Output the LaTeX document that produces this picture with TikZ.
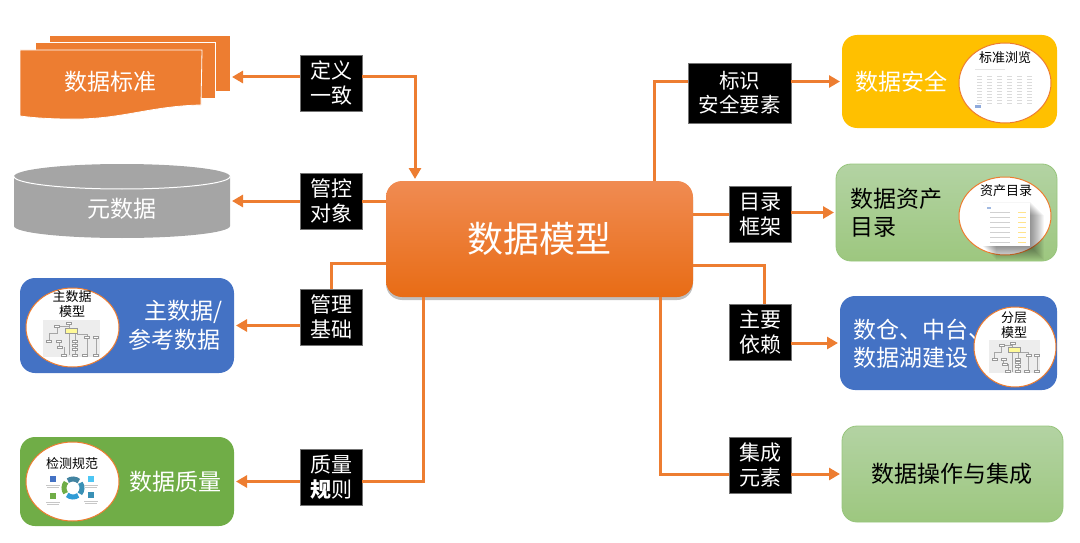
\documentclass[tikz,border=0pt]{standalone}
\usepackage{fontspec}
\setmainfont{Noto Sans CJK SC}
\usetikzlibrary{positioning, arrows.meta, shapes.geometric, shadows}
\definecolor{lineorange}{HTML}{ED7D31}
\definecolor{sheetorange}{HTML}{ED7D31}
\definecolor{boxblue}{HTML}{4472C4}
\definecolor{boxgreen}{HTML}{70AD47}
\definecolor{boxyellow}{HTML}{FFC000}
\definecolor{metagray}{HTML}{A5A5A5}
\definecolor{softtop}{HTML}{B3D3A3}
\definecolor{softbottom}{HTML}{9DC77F}
\definecolor{softedge}{HTML}{97C57C}
\definecolor{modeltop}{HTML}{F08B52}
\definecolor{modelmid}{HTML}{F47A26}
\definecolor{modelbottom}{HTML}{E86C15}
\begin{document}
\begin{tikzpicture}[
    x=1pt, y=-1pt,
    lblbox/.style={draw=black!55, line width=0.5pt, fill=black, text=white, minimum width=62pt, minimum height=56pt, inner sep=0pt, outer sep=0pt, align=center, font=\fontsize{21}{25}\selectfont},
    sheet/.style={draw=white, line width=0.8pt, fill=sheetorange, inner sep=0pt, outer sep=0pt},
    box/.style={rounded corners=15pt, inner sep=0pt, outer sep=0pt},
    softgreen/.style={box, draw=softedge, line width=0.8pt, top color=softtop, bottom color=softbottom},
    thumb/.style={ellipse, draw=lineorange, line width=1pt, fill=white, inner sep=0pt, outer sep=0pt},
    title/.style={inner sep=0pt, align=center, text=white, font=\fontsize{23}{28}\selectfont},
    caption/.style={inner sep=0pt, align=center, text=black, font=\fontsize{13}{15}\selectfont},
    link/.style={draw=lineorange, line width=3pt},
    arrow/.style={link, -{Triangle[length=11pt,width=12pt]}, shorten >=2pt},
    tiny box/.style={draw=black!40, line width=0.25pt, fill=white, minimum width=5pt, minimum height=2pt, inner sep=0pt},
    model/.pic={
        \fill[black!7] (0,0) rectangle (57,37);
        \draw[black!35, line width=0.25pt] (26,3) -- (26,35) (14,6) -- (26,6) (6,21) -- (6,13) -- (14,13) -- (14,6) (16,21) -- (16,27) (34,14) -- (44,14) -- (44,35) (53,17) -- (53,35) (21,27) -- (21,35) (32,14) -- (32,35);
        \foreach \px/\py in {26/3, 14/6, 6/21, 16/21, 17/27, 32/21, 32/25, 32/29, 44/17, 53/17, 21/35, 32/35, 42/35, 53/35}
            \node[tiny box] at (\px,\py) {};
        \node[tiny box, fill=yellow!40, minimum width=12pt, minimum height=5pt] at (28,11) {};
    },
    listing/.pic={
        \foreach \cx in {2,12,...,52} {
            \foreach \cy in {3,6,...,30}
                \draw[black!14, line width=0.3pt] (\cx,\cy) -- ++(5,0);
        }
        \draw[black!10, line width=0.3pt] (0,-4) -- (30,-4);
        \fill[boxblue!60] (0,32.5) rectangle (6,35);
    },
    document/.pic={
        \foreach \s in {14,13,...,1}
            \fill[black, opacity=0.035] (\s,\s-2) rectangle (48+\s,43+\s);
        \fill[white] (0,0) rectangle (48,43);
        \fill[boxblue!50] (5,4) rectangle (9,6);
        \foreach \ly in {9,14,...,39} {
            \draw[black!18, line width=0.3pt] (8,\ly) -- ++(20,0);
            \draw[boxyellow!45, line width=0.3pt] (36,\ly) -- ++(8,0);
        }
    },
    cycle/.pic={
        \foreach \ang/\col in {90/boxblue!70!cyan, 0/cyan!70!black, -90/cyan!60!black, 180/boxgreen}
            \draw[\col, line width=5pt] (\ang+40:9) arc[start angle=\ang+40, end angle=\ang-35, radius=9];
        \foreach \sx/\sy/\col in {-20/-9/boxblue, 18/-9/cyan!70, -20/8/boxgreen, 18/7/cyan!70!black} {
            \fill[\col] (\sx-3,\sy-3) rectangle (\sx+3,\sy+3);
            \draw[black!22, line width=0.3pt] (\sx-7,\sy+6) -- ++(14,0) (\sx-6,\sy+8) -- ++(12,0);
        }
    }
]
\useasboundingbox (0,0) rectangle (1080,543);

% centre
\node[box, rounded corners=16pt, minimum width=307pt, minimum height=116pt, top color=modeltop, middle color=modelmid, bottom color=modelbottom, drop shadow={shadow xshift=0pt, shadow yshift=-3pt, opacity=0.5}, text=white, font=\fontsize{36}{40}\selectfont] (model) at (539.5,239) {数据模型};

% left column
\node[minimum width=210pt, minimum height=84pt, inner sep=0pt, outer sep=0pt] (standard) at (125,77) {};
\node[sheet, minimum width=181pt, minimum height=56pt] (sheetback) at (139.5,63) {};
\node[sheet, minimum width=180pt, minimum height=56pt] (sheetmid) at (125,70) {};
\path[sheet] (20,50) -- (202,50) -- (201,105) .. controls (150,106) and (120,120) .. (70,119) .. controls (50,119) and (35,118) .. (20,116) -- cycle;
\node[title] (standardtext) at (110,82) {数据标准};

\node[minimum width=216pt, minimum height=74pt, inner sep=0pt, outer sep=0pt] (metadata) at (122,201) {};
\fill[metagray] (14,176.5) arc[start angle=180, end angle=0, x radius=108, y radius=-12.5] -- (230,226) arc[start angle=0, end angle=-180, x radius=108, y radius=-12] -- cycle;
\draw[white, line width=1pt] (14,176.5) arc[start angle=180, end angle=360, x radius=108, y radius=-12.5];
\node[title] (metadatatext) at (122,209) {元数据};

\node[box, fill=boxblue, minimum width=214pt, minimum height=95pt] (master) at (127,325.5) {};
\node[thumb, minimum width=93pt, minimum height=79pt] (masterthumb) at (72.5,327.5) {};
\node[caption] (mastercaption) at (72,304.5) {主数据\\模型};
\pic at (43,320) {model};
\node[title, anchor=west] (mastertext1) at (144,312) {主数据/};
\node[title, anchor=east] (mastertext2) at (221,340) {参考数据};

\node[box, fill=boxgreen, minimum width=214pt, minimum height=89pt] (dataquality) at (127,481.5) {};
\node[thumb, minimum width=93pt, minimum height=79pt] (qualitythumb) at (72.5,481.5) {};
\node[caption] (qualitycaption) at (72,464) {检测规范};
\pic at (73,488) {cycle};
\node[title] (qualitytext) at (175,482) {数据质量};

% right column
\node[box, fill=boxyellow, minimum width=215pt, minimum height=93pt] (security) at (949.5,81.5) {};
\node[title] (securitytext) at (901,82) {数据安全};
\node[thumb, minimum width=92pt, minimum height=80pt] (securitythumb) at (1005,83) {};
\node[caption] (securitycaption) at (1005,58) {标准浏览};
\pic at (975,73) {listing};

\node[softgreen, minimum width=221pt, minimum height=97pt] (catalog) at (946.5,212.5) {};
\node[title, text=black, align=left, anchor=west] (catalogtext) at (850,213) {数据资产\\目录};
\node[thumb, minimum width=92pt, minimum height=78pt] (catalogthumb) at (1005,216) {};
\pic at (982,203) {document};
\node[caption] (catalogcaption) at (1006,191) {资产目录};

\node[box, fill=boxblue, minimum width=217pt, minimum height=94pt] (warehouse) at (948.5,343) {};
\node[title, align=left, anchor=west] (warehousetext) at (853,344) {数仓、中台、\\数据湖建设};
\node[thumb, minimum width=82pt, minimum height=80pt] (warehousethumb) at (1015,347) {};
\node[caption] (warehousecaption) at (1014,325.5) {分层\\模型};
\pic[scale=0.9] at (989,340) {model};

\node[softgreen, minimum width=221pt, minimum height=96pt] (operation) at (952.5,474) {};
\node[title, text=black] (operationtext) at (952,474) {数据操作与集成};

% labels
\node[lblbox] (define) at (331,83) {定义\\一致};
\node[lblbox, below=62pt of define] (control) {管控\\对象};
\node[lblbox, below=60pt of control] (base) {管理\\基础};
\node[lblbox, below=104pt of base] (quality) {质量\\{\bfseries 规}则};
\node[lblbox, minimum width=103pt, minimum height=60pt, font=\fontsize{20.5}{24}\selectfont, anchor=east] (mark) at (791,93) {标识\\安全要素};
\node[lblbox, anchor=east] (frame) at (791,214.5) {目录\\框架};
\node[lblbox, anchor=east] (depend) at (791,332) {主要\\依赖};
\node[lblbox, anchor=east] (element) at (791,465) {集成\\元素};

% connectors
\draw[arrow] (define.east |- standard.east) -| ([xshift=29pt]model.north west);
\draw[arrow] (define.west |- standard.east) -- (standard.east);
\draw[link] (model.west |- control.east) -- (control.east);
\draw[arrow] (control.west |- metadata.east) -- (metadata.east);
\draw[link] ([yshift=-82pt]model.north west) -| (base.north);
\draw[arrow] (base.west |- master.east) -- (master.east);
\draw[link] ([xshift=37pt]model.south west) |- (quality.east |- dataquality.east);
\draw[arrow] (quality.west |- dataquality.east) -- (dataquality.east);

\draw[link] ([xshift=-39pt]model.north east) |- (mark.west |- security.west);
\draw[arrow] (mark.east |- security.west) -- (security.west);
\draw[link] (model.east |- frame.west) -- (frame.west);
\draw[arrow] (frame.east |- catalog.west) -- (catalog.west);
\draw[link] ([yshift=-84pt]model.north east) -| ([xshift=4pt]depend.north);
\draw[arrow] (depend.east |- warehouse.west) -- (warehouse.west);
\draw[link] ([xshift=-33pt]model.south east) |- (element.west |- operation.west);
\draw[arrow] (element.east |- operation.west) -- (operation.west);

\end{tikzpicture}
\end{document}
